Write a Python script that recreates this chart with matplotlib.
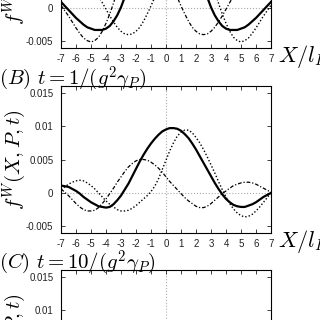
import numpy as np
import matplotlib
matplotlib.use('Agg')
import matplotlib.pyplot as plt

plt.rcParams['mathtext.fontset'] = 'cm'
plt.rcParams['font.family'] = ['Liberation Sans', 'DejaVu Sans']

# sample points along X/l_P (step 0.25, 57 points)
x_pts = np.arange(-7, 7.001, 0.25)

# panel A (only its lower part is visible in the crop)
a_solid = [0.0009, 0.0003, -0.0003, -0.0009, -0.0015, -0.0020, -0.0025, -0.0029,
           -0.0031, -0.0033, -0.0033, -0.0033, -0.0031, -0.0027, -0.0020, -0.0011,
           0.0001, 0.0016, 0.0033, 0.0052, 0.0070, 0.0088, 0.0103, 0.0115,
           0.0123, 0.0127, 0.0127, 0.0125, 0.0124,
           0.0125, 0.0127, 0.0127, 0.0123, 0.0115, 0.0103, 0.0088, 0.0070,
           0.0052, 0.0033, 0.0016, 0.0001, -0.0011, -0.0020, -0.0027, -0.0031,
           -0.0033, -0.0033, -0.0033, -0.0031, -0.0029, -0.0025, -0.0020, -0.0015,
           -0.0009, -0.0003, 0.0003, 0.0009]
a_dashdot = [0.0004, -0.0004, -0.0012, -0.0021, -0.0030, -0.0038, -0.0045, -0.0049,
             -0.0051, -0.0049, -0.0044, -0.0035, -0.0023, -0.0009, 0.0007, 0.0025,
             0.0043, 0.0060, 0.0076, 0.0090, 0.0101, 0.0109, 0.0113, 0.0113,
             0.0109, 0.0101, 0.0090, 0.0076,
             0.0061, 0.0045, 0.0030, 0.0016, 0.0003, -0.0009, -0.0020, -0.0029,
             -0.0035, -0.0039, -0.0040, -0.0039, -0.0035, -0.0029, -0.0021, -0.0012,
             -0.0002, 0.0008, 0.0018, 0.0028, 0.0037, 0.0045, 0.0051, 0.0055,
             0.0057, 0.0057, 0.0055, 0.0052, 0.0048]
a_dotted = [0.0048, 0.0052, 0.0055, 0.0057, 0.0057, 0.0055, 0.0051, 0.0045,
            0.0037, 0.0028, 0.0018, 0.0008, -0.0002, -0.0012, -0.0021, -0.0029,
            -0.0035, -0.0039, -0.0040, -0.0039, -0.0035, -0.0029, -0.0020, -0.0009,
            0.0003, 0.0016, 0.0030, 0.0045, 0.0061,
            0.0076, 0.0090, 0.0101, 0.0109, 0.0113, 0.0113, 0.0109, 0.0101,
            0.0090, 0.0076, 0.0060, 0.0043, 0.0025, 0.0007, -0.0009, -0.0023,
            -0.0035, -0.0044, -0.0049, -0.0051, -0.0049, -0.0045, -0.0038, -0.0030,
            -0.0021, -0.0012, -0.0004, 0.0004]

# panel B, t = 1/(g^2 gamma_P)
b_solid = [0.0011, 0.0010, 0.0009, 0.0006, 0.0003, -0.0001, -0.0006, -0.0010,
           -0.0014, -0.0017, -0.0020, -0.0021, -0.0022, -0.0021, -0.0017, -0.0011,
           -0.0004, 0.0005, 0.0014, 0.0025, 0.0036, 0.0047, 0.0057, 0.0066,
           0.0074, 0.0081, 0.0087, 0.0092,
           0.0095, 0.0097, 0.0097, 0.0096, 0.0093, 0.0088, 0.0082, 0.0074,
           0.0065, 0.0055, 0.0045, 0.0035, 0.0025, 0.0015, 0.0006, -0.0002,
           -0.0009, -0.0014, -0.0018, -0.0020, -0.0021, -0.0021, -0.0019, -0.0017,
           -0.0014, -0.0010, -0.0006, -0.0003, 0.0000]
b_dotted = [0.0005, 0.0009, 0.0013, 0.0016, 0.0018, 0.0019, 0.0018, 0.0015,
            0.0011, 0.0006, 0.0000, -0.0006, -0.0012, -0.0017, -0.0021, -0.0025,
            -0.0027, -0.0027, -0.0026, -0.0023, -0.0019, -0.0014, -0.0009, -0.0004,
            0.0002, 0.0010, 0.0021, 0.0035,
            0.0049, 0.0063, 0.0075, 0.0085, 0.0091, 0.0094, 0.0094, 0.0090,
            0.0083, 0.0075, 0.0065, 0.0054, 0.0042, 0.0030, 0.0017, 0.0005,
            -0.0006, -0.0016, -0.0024, -0.0030, -0.0034, -0.0036, -0.0035, -0.0032,
            -0.0027, -0.0021, -0.0014, -0.0007, 0.0000]
b_dashdot = [0.0006, 0.0001, -0.0004, -0.0010, -0.0016, -0.0021, -0.0025, -0.0027,
             -0.0027, -0.0026, -0.0022, -0.0016, -0.0009, -0.0001, 0.0007, 0.0016,
             0.0024, 0.0032, 0.0039, 0.0044, 0.0048, 0.0050, 0.0050, 0.0049,
             0.0046, 0.0042, 0.0037, 0.0031,
             0.0024, 0.0017, 0.0011, 0.0005, -0.0001, -0.0007, -0.0012, -0.0016,
             -0.0020, -0.0022, -0.0022, -0.0020, -0.0016, -0.0011, -0.0006, -0.0001,
             0.0003, 0.0007, 0.0011, 0.0013, 0.0015, 0.0016, 0.0016, 0.0015,
             0.0013, 0.0010, 0.0007, 0.0004, 0.0001]

x_ticks = list(range(-7, 8))
y_ticks = [-0.005, 0, 0.005, 0.01, 0.015]
y_ticklabels = ['-0.005', '0', '0.005', '0.01', '0.015']
titles = [None, '$(B)\\ t=1/(g^2\\gamma_P)$', '$(C)\\ t=10/(g^2\\gamma_P)$']

fig = plt.figure(figsize=(3.2, 3.2), dpi=100)
W = H = 320.0

def px_axes(top_px):
    left, right = 61, 271
    height = 147
    return fig.add_axes([left / W, 1 - (top_px + height) / H, (right - left) / W, height / H])

panels = [(-99, [a_solid, a_dotted, a_dashdot]),
          (86, [b_solid, b_dotted, b_dashdot]),
          (270, None)]

for i, (top, curves) in enumerate(panels):
    ax = px_axes(top)
    ax.set_xlim(-7, 7)
    ax.set_ylim(-0.006, 0.016)
    ax.axhline(0, color='#aaaaaa', lw=0.8, ls=':', zorder=0)
    ax.axvline(0, color='#aaaaaa', lw=0.8, ls=':', zorder=0)
    if curves is not None:
        s, d, c = curves
        ax.plot(x_pts, s, color='black', lw=1.6)
        ax.plot(x_pts, d, color='black', lw=1.0, ls=(0, (1, 1.5)))
        ax.plot(x_pts, c, color='black', lw=0.9, ls=(0, (3, 1.5, 1, 1.5)))
    ax.set_xticks(x_ticks)
    ax.set_xticklabels([str(v) for v in x_ticks])
    ax.set_yticks(y_ticks)
    ax.set_yticklabels(y_ticklabels)
    ax.tick_params(direction='in', length=3, width=0.6, top=True, right=True,
                   labelsize=7, colors='#222222')
    ax.tick_params(axis='x', pad=4)
    ax.tick_params(axis='y', pad=5.5)
    for sp in ax.spines.values():
        sp.set_linewidth(0.8)
    ax.text(-0.22, 0.5, '$f^W(X,P,t)$', transform=ax.transAxes, rotation=90,
            ha='center', va='center', fontsize=15)
    ax.text(1.035, -0.06, '$X/l_P$', transform=ax.transAxes,
            ha='left', va='center', fontsize=16)
    if titles[i]:
        fig.text(-1 / W, 1 - (top - 7.5) / H, titles[i], ha='left', va='center', fontsize=15)

fig.savefig('out.png', dpi=100)
